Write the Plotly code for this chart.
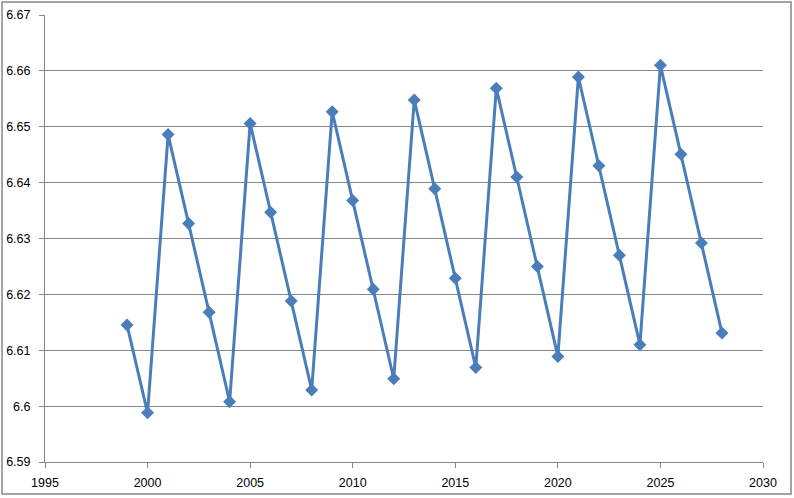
import plotly.graph_objects as go

years = list(range(1999, 2029))
values = [6.6145, 6.5988, 6.6486, 6.6327, 6.6168, 6.6008,
          6.6506, 6.6347, 6.6188, 6.6029, 6.6527, 6.6368,
          6.6209, 6.6049, 6.6548, 6.6389, 6.6229, 6.6069,
          6.6569, 6.6410, 6.6250, 6.6089, 6.6589, 6.6430,
          6.6270, 6.6110, 6.6610, 6.6451, 6.6292, 6.6131]

x_ticks = [1995, 2000, 2005, 2010, 2015, 2020, 2025, 2030]
y_ticks = [6.59, 6.60, 6.61, 6.62, 6.63, 6.64, 6.65, 6.66, 6.67]
y_labels = ["6.59", "6.6", "6.61", "6.62", "6.63", "6.64", "6.65", "6.66", "6.67"]

blue = "#4A7EBB"
grey = "#878787"

fig = go.Figure()
fig.add_trace(go.Scatter(
    x=years, y=values, mode="lines+markers",
    line=dict(color=blue, width=3),
    marker=dict(symbol="diamond", size=10, color=blue),
    showlegend=False, cliponaxis=False,
))

font = dict(family="Liberation Sans, Arial, sans-serif", size=12.5, color="#000000")

fig.update_layout(
    width=794, height=498,
    margin=dict(l=45, r=31, t=15, b=36),
    paper_bgcolor="white", plot_bgcolor="white",
    font=font,
    xaxis=dict(range=[1995, 2030], tickvals=x_ticks, showgrid=False,
               showline=True, linecolor=grey, linewidth=1, automargin=False,
               ticks="outside", ticklen=5, tickcolor=grey, zeroline=False,
               ticklabelstandoff=4, tickfont=font),
    yaxis=dict(range=[6.59, 6.67], tickvals=y_ticks, ticktext=y_labels,
               showgrid=True, gridcolor=grey, gridwidth=1, automargin=False,
               showline=True, linecolor=grey, linewidth=1,
               ticks="outside", ticklen=5, tickcolor=grey, zeroline=False,
               ticklabelstandoff=6, tickfont=font),
    shapes=[dict(type="rect", xref="paper", yref="paper",
                 x0=(2 - 45) / 718, x1=(791 - 45) / 718,
                 y0=(462 - 494) / 447, y1=(462 - 2) / 447,
                 line=dict(color=grey, width=1.5), fillcolor="rgba(0,0,0,0)",
                 layer="above")],
)

fig.write_html(
    "out.html",
    config={"displayModeBar": False},
    post_script="document.body.style.margin='0';document.body.style.overflow='hidden';",
)
